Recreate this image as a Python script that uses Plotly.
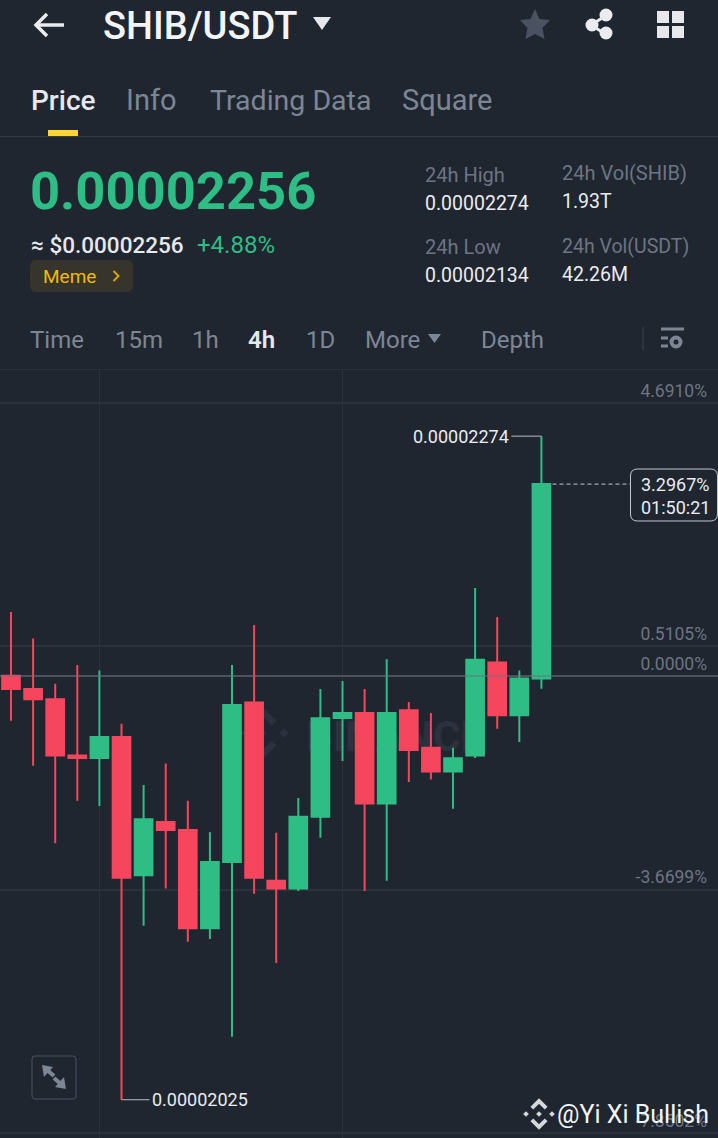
import plotly.graph_objects as go

# prices in units of 1e-8 USDT
candleIndex = list(range(25))
openVals = [2184.1, 2179.1, 2175.3, 2154.2, 2153.2, 2161.1, 2109.2, 2129.2, 2126.2, 2089.3, 2114.2, 2174.1, 2107.2,
            2104.3, 2131.2, 2168.2, 2170.1, 2136.2, 2171.1, 2157.1, 2148.2, 2154.2, 2189.1, 2169.3, 2183.1]
highVals = [2208.0, 2198.1, 2181.1, 2188.1, 2186.1, 2166.1, 2143.1, 2151.2, 2137.2, 2125.4, 2188.1, 2203.1, 2125.2,
            2138.2, 2179.1, 2182.1, 2179.1, 2190.3, 2174.2, 2170.1, 2157.1, 2217.0, 2206.1, 2186.1, 2274.0]
lowVals = [2167.2, 2150.3, 2121.2, 2137.2, 2135.2, 2025.0, 2090.3, 2104.3, 2084.3, 2085.3, 2048.6, 2102.3, 2076.3,
           2103.3, 2123.3, 2152.1, 2103.3, 2107.2, 2144.2, 2145.2, 2134.2, 2153.2, 2164.2, 2159.2, 2179.2]
closeVals = [2179.1, 2175.3, 2154.2, 2153.2, 2161.1, 2108.3, 2130.2, 2126.2, 2089.3, 2114.2, 2173.1, 2108.3, 2104.3,
             2131.2, 2168.1, 2170.1, 2136.2, 2170.1, 2156.2, 2148.2, 2153.1, 2190.1, 2169.3, 2183.1, 2256.0]

basePrice = 2184.0
tickPercents = [4.6910, 0.5105, 0.0000, -3.6699, -7.8502]
tickLabels = ['4.6910%', '0.5105%', '0.0000%', '-3.6699%', '-7.8502%']
gridCandles = [4, 15]

W, H = 718, 1138
BG = '#1f2630'
GREEN = '#2ebd85'
RED = '#f6465d'
GRAY = '#7d8695'
DIM = '#6d7583'
GRID = '#2b323d'
WHITE = '#eaecef'
FONT = 'Roboto'


def px(x):
    return x / W


def py(y):
    return 1 - y / H


def poly(pts, close=True):
    path = 'M ' + ' L '.join('%.5f %.5f' % (px(x), py(y)) for x, y in pts)
    return path + (' Z' if close else '')


def roundRect(x0, y0, x1, y1, r):
    return ('M %.5f %.5f L %.5f %.5f Q %.5f %.5f %.5f %.5f L %.5f %.5f Q %.5f %.5f %.5f %.5f '
            'L %.5f %.5f Q %.5f %.5f %.5f %.5f L %.5f %.5f Q %.5f %.5f %.5f %.5f Z') % (
        px(x0 + r), py(y0), px(x1 - r), py(y0), px(x1), py(y0), px(x1), py(y0 + r),
        px(x1), py(y1 - r), px(x1), py(y1), px(x1 - r), py(y1),
        px(x0 + r), py(y1), px(x0), py(y1), px(x0), py(y1 - r),
        px(x0), py(y0 + r), px(x0), py(y0), px(x0 + r), py(y0))


shapes = []
annotations = []


def addPath(path, fill=None, line=None, width=0, layer='above'):
    shapes.append(dict(type='path', xref='paper', yref='paper', path=path, layer=layer,
                       fillcolor=fill if fill else 'rgba(0,0,0,0)',
                       line=dict(color=line if line else 'rgba(0,0,0,0)', width=width)))


def addCircle(cx, cy, r, fill):
    shapes.append(dict(type='circle', xref='paper', yref='paper', x0=px(cx - r), x1=px(cx + r),
                       y0=py(cy - r), y1=py(cy + r), fillcolor=fill, line=dict(width=0)))


def addText(x, y, text, size, color, weight=400, anchor='left'):
    annotations.append(dict(xref='paper', yref='paper', x=px(x), y=py(y), text=text, showarrow=False,
                            xanchor=anchor, yanchor='middle', borderpad=0,
                            font=dict(family=FONT, size=size, color=color, weight=weight)))


def addDiamonds(cx, cy, s, color, layer='above'):
    # the exchange logo is four small diamonds and a ring of chevrons
    d = s * 0.22
    for dx, dy in [(-s, 0), (s, 0), (0, 0)]:
        addPath(poly([(cx + dx, cy + dy - d), (cx + dx + d, cy + dy), (cx + dx, cy + dy + d), (cx + dx - d, cy + dy)]),
                fill=color, layer=layer)
    t = s * 0.3
    addPath(poly([(cx - s * .55, cy - s * .45), (cx, cy - s), (cx + s * .55, cy - s * .45)], close=False),
            line=color, width=t, layer=layer)
    addPath(poly([(cx - s * .55, cy + s * .45), (cx, cy + s), (cx + s * .55, cy + s * .45)], close=False),
            line=color, width=t, layer=layer)


# header
addPath(poly([(36, 25), (64, 25)], close=False), line='#eaecef', width=3.5)
addPath(poly([(47, 14), (36, 25), (47, 36)], close=False), line='#eaecef', width=3.5)
addText(102, 26, 'SHIB/USDT', 38, '#f3f4f6', 500)
addPath(poly([(313, 17), (331, 17), (322, 30)]), fill='#e6e8ec')
addPath(poly([(535, 9), (539.5, 19), (550, 20), (542.5, 28), (544.5, 39), (535, 34), (525.5, 39), (527.5, 28),
              (520, 20), (530.5, 19)]), fill='#4a5262')
addPath(poly([(591, 25), (607, 15)], close=False), line='#eaecef', width=3)
addPath(poly([(591, 25), (607, 35)], close=False), line='#eaecef', width=3)
addCircle(592, 25, 6.5, '#eaecef')
addCircle(606, 15, 6.5, '#eaecef')
addCircle(606, 33, 6.5, '#eaecef')
for gx, gy in [(657, 11), (672, 11), (657, 26), (672, 26)]:
    addPath(poly([(gx, gy), (gx + 12, gy), (gx + 12, gy + 12), (gx, gy + 12)]), fill='#e6e8ec')

# tabs
addText(29.5, 100, 'Price', 28, '#e6e8ec', 500)
addText(125, 100, 'Info', 29, GRAY)
addText(209, 100, 'Trading Data', 28.5, GRAY)
addText(401, 100, 'Square', 29, GRAY)
addPath(poly([(48, 130), (78, 130), (78, 136), (48, 136)]), fill='#fcd535')
addPath(poly([(0, 136.5), (718, 136.5)], close=False), line='#333b48', width=1)

# price block
addText(29, 191, '0.00002256', 52.5, GREEN, 700)
addText(30, 245, '≈ $0.00002256', 22.5, '#e6e8ec', 500)
addText(196, 245, '+4.88%', 24, GREEN, 400)
addPath(roundRect(30, 260, 133, 292, 7), fill='#37352b')
addText(42, 276, 'Meme', 19, '#f0b90b')
addPath(poly([(113.5, 271), (118.5, 276), (113.5, 281)], close=False), line='#d6a50f', width=2)

addText(424, 175, '24h High', 20, DIM)
addText(424, 203, '0.00002274', 19.5, WHITE)
addText(561, 173, '24h Vol(SHIB)', 20, DIM)
addText(561, 202, '1.93T', 19.5, WHITE)
addText(424, 247, '24h Low', 20, DIM)
addText(424, 275, '0.00002134', 19.5, WHITE)
addText(561, 246, '24h Vol(USDT)', 19.5, DIM)
addText(561, 274, '42.26M', 19.5, WHITE)

# timeframe row
addText(29, 340, 'Time', 24, GRAY)
addText(114, 340, '15m', 24, GRAY)
addText(191, 340, '1h', 24, GRAY)
addText(247, 340, '4h', 24, '#e6e8ec', 600)
addText(305, 340, '1D', 24, GRAY)
addText(364, 340, 'More', 24, GRAY)
addPath(poly([(428, 334), (441, 334), (434.5, 343)]), fill=GRAY)
addText(480, 340, 'Depth', 24, GRAY)
addPath(poly([(643, 327), (643, 350)], close=False), line='#3a424f', width=1)
addPath(poly([(661, 329), (684, 329)], close=False), line=GRAY, width=3)
addPath(poly([(661, 338), (668, 338)], close=False), line=GRAY, width=3)
addPath(poly([(661, 346), (668, 346)], close=False), line=GRAY, width=3)
addCircle(676, 342, 6.5, GRAY)
addCircle(676, 342, 2.5, BG)
addPath(poly([(0, 369.5), (718, 369.5)], close=False), line=GRID, width=1)

# faint wordmark behind the candles
addDiamonds(262, 733, 22, '#2b323d', layer='below')
shapes.append(dict(type='rect', xref='paper', yref='paper', layer='below', x0=px(295), x1=px(495),
                   y0=py(750), y1=py(716), line=dict(width=0), fillcolor='rgba(0,0,0,0)',
                   label=dict(text='BINANCE', textposition='middle center',
                              font=dict(family=FONT, size=42, color='#2b323d', weight=700))))

# chart marks tied to the price scale
shapes.append(dict(type='line', xref='paper', yref='y', x0=0, x1=1, y0=basePrice, y1=basePrice,
                   line=dict(color='#6b7280', width=1.2)))
shapes.append(dict(type='line', xref='x', yref='y', x0=24.5, x1=px(630) * 32.49 - 0.498, y0=closeVals[-1],
                   y1=closeVals[-1], line=dict(color='#a0a6b1', width=1.2, dash='4px,3px')))
annotations.append(dict(x=24, y=highVals[-1], xref='x', yref='y', text='0.00002274', showarrow=True, arrowhead=0,
                        arrowwidth=1, arrowcolor='#b7bdc6', ax=-30, ay=0, xanchor='right', yanchor='middle',
                        font=dict(family=FONT, size=18, color=WHITE)))
annotations.append(dict(x=5, y=lowVals[5], xref='x', yref='y', text='0.00002025', showarrow=True, arrowhead=0,
                        arrowwidth=1, arrowcolor='#b7bdc6', ax=28, ay=0, xanchor='left', yanchor='middle',
                        font=dict(family=FONT, size=18, color=WHITE)))

addPath(roundRect(630.5, 469, 717.5, 521, 7), fill=BG, line='#c4c8cf', width=1)
addText(675, 484, '3.2967%', 18, WHITE, anchor='center')
addText(675, 507, '01:50:21', 18, WHITE, anchor='center')

# expand button
addPath(roundRect(32, 1056, 76, 1099, 3), line='#4a5262', width=1)
addPath(poly([(42, 1065), (53, 1067), (44, 1077)]), fill=GRAY)
addPath(poly([(66, 1089), (55, 1087), (64, 1077)]), fill=GRAY)
addPath(poly([(46, 1069), (54, 1076)], close=False), line=GRAY, width=4)
addPath(poly([(62, 1085), (54, 1078)], close=False), line=GRAY, width=4)

# repost watermark
addDiamonds(539, 1114, 13, '#d5d8dd')
addText(556, 1114, '@Yi Xi Bullish', 25, '#f3f4f6')

candles = go.Candlestick(
    x=candleIndex,
    open=[v * 1e-8 for v in openVals],
    high=[v * 1e-8 for v in highVals],
    low=[v * 1e-8 for v in lowVals],
    close=[v * 1e-8 for v in closeVals],
    increasing=dict(line=dict(color=GREEN, width=2), fillcolor=GREEN),
    decreasing=dict(line=dict(color=RED, width=2), fillcolor=RED),
    whiskerwidth=0,
    hoverinfo='skip',
    showlegend=False,
)

for s in shapes:
    if s.get('yref') == 'y':
        s['y0'] *= 1e-8
        s['y1'] *= 1e-8
for a in annotations:
    if a.get('yref') == 'y':
        a['y'] *= 1e-8

fig = go.Figure(candles)
fig.update_layout(
    width=W, height=H,
    margin=dict(l=0, r=0, t=0, b=0),
    paper_bgcolor=BG, plot_bgcolor=BG,
    boxgap=0.2, boxgroupgap=0,
    shapes=shapes, annotations=annotations,
    font=dict(family=FONT),
    xaxis=dict(range=[-0.498, 31.99], tickvals=gridCandles, showticklabels=False, ticks='',
               showgrid=True, gridcolor=GRID, gridwidth=1, zeroline=False,
               rangeslider=dict(visible=False), fixedrange=True),
    yaxis=dict(domain=[0, 768 / H], range=[2010.64e-8, 2298.82e-8], side='right',
               tickvals=[basePrice * (1 + p / 100) * 1e-8 for p in tickPercents], ticktext=tickLabels,
               ticklabelposition='inside top', ticklen=0, ticklabelstandoff=8,
               tickfont=dict(family=FONT, size=17.5, color=DIM),
               showgrid=True, gridcolor=GRID, gridwidth=1.5, zeroline=False, fixedrange=True),
)

# the page keeps the browser's default body margin otherwise
fig.write_html("out.html", config=dict(displayModeBar=False),
               post_script="document.body.style.margin='0';document.body.style.overflow='hidden';")
